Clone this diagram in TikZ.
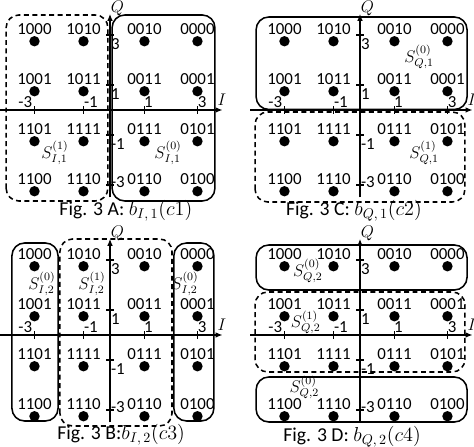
\documentclass[tikz,border=0pt]{standalone}
\usepackage{fontspec}
\setmainfont{Carlito}
\usetikzlibrary{arrows.meta}
\tikzset{
  axisline/.style={line width=1pt, -{Latex[length=5pt,width=4pt]}},
  tickline/.style={line width=0.9pt},
  bits/.style={inner sep=0pt, font=\fontsize{12}{14}\selectfont},
  dot/.style={circle, fill, inner sep=0pt, minimum size=0.26cm},
  setbox/.style={line width=1.1pt, rounded corners=9pt},
  setboxd/.style={setbox, dash pattern=on 3.5pt off 2.5pt},
  slabel/.style={inner sep=0pt, font=\fontsize{11.5}{14}\selectfont},
  figcap/.style={inner sep=0pt, font=\fontsize{14}{16}\selectfont},
}
\newcommand\qamgrid[1]{%
  % axes
  \draw[axisline] (-4.15,0) -- (4.25,0);
  \draw[axisline] (0,-3.5) -- (0,3.85);
  \node[bits] (#1I) at (4.22,0.4) {$I$};
  \node[bits] (#1Q) at (0.28,4.05) {$Q$};
  % ticks on I
  \foreach \t/\v/\p in {-2.85/-3/-3.2, -1/-1/-0.72, 1.3/1/1.45, 3.3/3/3.48}{
    \draw[tickline] (\t,0) ++(0,-0.09cm) -- ++(0,0.18cm);
    \node[bits] (#1i\v) at (\p,0.32) {\v};
  }
  % ticks on Q
  \foreach \t/\p in {3/2.62, 1/0.62, -1/-1.38, -3/-2.88}{
    \draw[tickline] (0,\t) ++(-0.09cm,0) -- ++(0.18cm,0);
    \node[bits, anchor=west] (#1q\t) at (0.03,\p) {\t};
  }
  % symbols
  \foreach \x/\y/\b in {-2.85/3/1000, -1/3/1010, 1.3/3/0010, 3.3/3/0000,
                        -2.85/1/1001, -1/1/1011, 1.3/1/0011, 3.3/1/0001,
                        -2.85/-1/1101, -1/-1/1111, 1.3/-1/0111, 3.3/-1/0101,
                        -2.85/-3/1100, -1/-3/1110, 1.3/-3/0110, 3.3/-3/0100}{
    \node[dot] (#1d\b) at (\x,{\y-0.25}) {};
    \node[bits] (#1b\b) at (\x,{\y+0.22}) {\b};
  }
}
\begin{document}
\begin{tikzpicture}
\useasboundingbox (0,0) rectangle (11.85,11.175);
% Fig. 3 A
\begin{scope}[shift={(2.75cm,8.425cm)}, x=0.6625cm, y=0.625cm]
  \qamgrid{a}
  \draw[setboxd] (-3.92,-3.64) rectangle (-0.08,3.8);
  \draw[setbox] (0.08,-3.64) rectangle (3.96,3.8);
  \node[slabel] (aS1) at (-2.08,-1.72) {$S_{I,1}^{(1)}$};
  \node[slabel] (aS0) at (2.19,-1.72) {$S_{I,1}^{(0)}$};
  \node[figcap] (acap) at (0.6,-4.05) {Fig. 3 A: $b_{I,\,1}(c1)$};
\end{scope}
% Fig. 3 C
\begin{scope}[shift={(9cm,8.425cm)}, x=0.6625cm, y=0.625cm]
  \qamgrid{c}
  \draw[setbox] (-3.92,0.02) rectangle (4.04,3.72);
  \draw[setboxd] (-3.96,-3.68) rectangle (3.96,-0.08);
  \node[slabel] (cS0) at (2.23,2.12) {$S_{Q,1}^{(0)}$};
  \node[slabel] (cS1) at (2.42,-1.72) {$S_{Q,1}^{(1)}$};
  \node[figcap] (ccap) at (-0.23,-4.05) {Fig. 3 C: $b_{Q,\,1}(c2)$};
\end{scope}
% Fig. 3 B
\begin{scope}[shift={(2.75cm,2.8cm)}, x=0.6625cm, y=0.625cm]
  \qamgrid{b}
  \draw[setbox] (-3.7,-3.44) rectangle (-1.96,3.68);
  \draw[setboxd] (-1.89,-3.64) rectangle (2.34,3.84);
  \draw[setbox] (2.41,-3.44) rectangle (3.92,3.68);
  \node[slabel] (bS0l) at (-2.57,2.04) {$S_{I,2}^{(0)}$};
  \node[slabel] (bS1) at (-0.68,2.04) {$S_{I,2}^{(1)}$};
  \node[slabel] (bS0r) at (2.83,2.04) {$S_{I,2}^{(0)}$};
  \node[figcap] (bcap) at (0.42,-4.0) {Fig. 3 B:$b_{I,\,2}(c3)$};
\end{scope}
% Fig. 3 D
\begin{scope}[shift={(9cm,2.8cm)}, x=0.6625cm, y=0.625cm]
  \qamgrid{d}
  \draw[setbox] (-3.92,1.8) rectangle (4.04,3.6);
  \draw[setboxd] (-3.96,-1.48) rectangle (3.96,1.72);
  \draw[setbox] (-3.92,-3.48) rectangle (4.04,-1.68);
  \node[slabel] (dS0t) at (-1.97,2.55) {$S_{Q,2}^{(0)}$};
  \node[slabel] (dS1) at (-2.05,0.5) {$S_{Q,2}^{(1)}$};
  \node[slabel] (dS0b) at (-2.1,-2.1) {$S_{Q,2}^{(0)}$};
  \node[figcap] (dcap) at (-0.3,-4.08) {Fig. 3 D: $b_{Q,\,2}(c4)$};
\end{scope}
\end{tikzpicture}
\end{document}
